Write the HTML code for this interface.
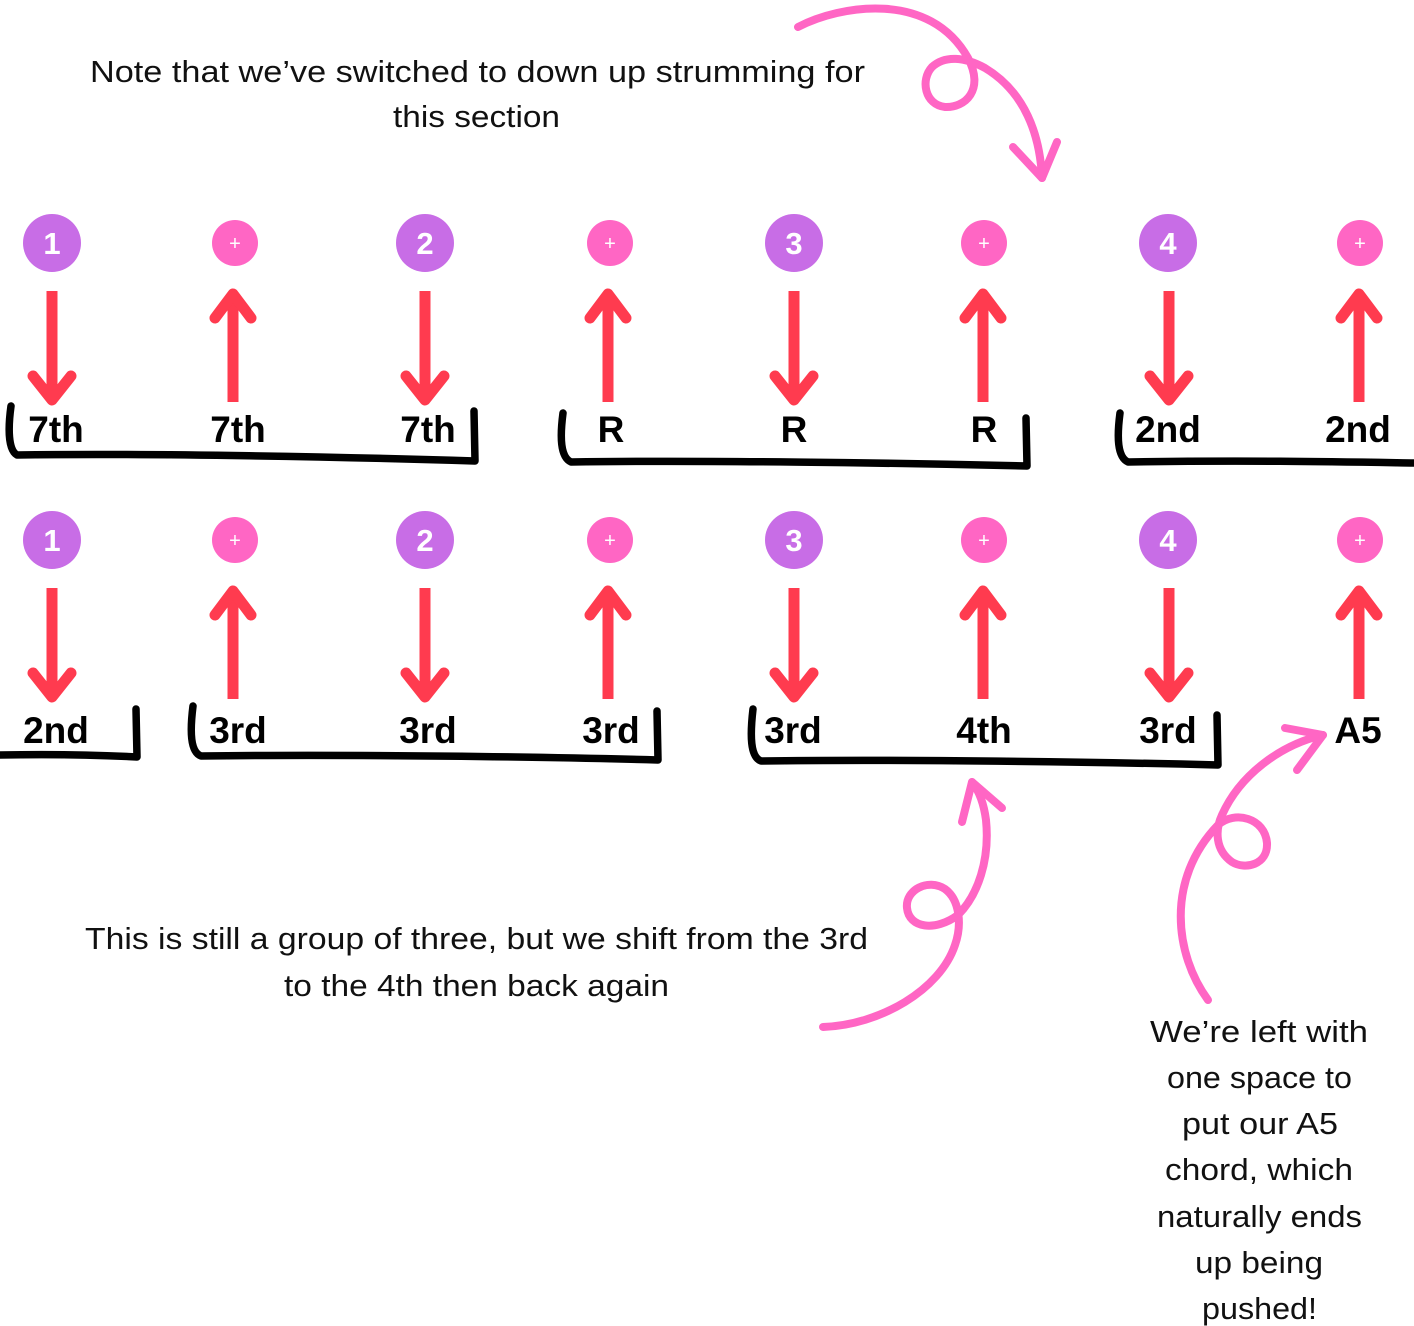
<!DOCTYPE html>
<html>
<head>
<meta charset="utf-8">
<style>
  html,body{margin:0;padding:0;background:#fff;}
  svg{display:block;}
  .t{font-family:"Liberation Sans",sans-serif;font-size:31px;fill:#111;}
  .lb{font-family:"Liberation Sans",sans-serif;font-weight:bold;font-size:37px;fill:#000;}
  .num{font-family:"Liberation Sans",sans-serif;font-weight:bold;font-size:31px;fill:#fff;}
  .pl{font-family:"Liberation Sans",sans-serif;font-size:20px;fill:#fff;}
</style>
</head>
<body>
<svg width="1414" height="1326" viewBox="0 0 1414 1326" xmlns="http://www.w3.org/2000/svg">
  <rect width="1414" height="1326" fill="#fff"/>

  <!-- top text -->
  <text class="t" x="90" y="82" textLength="775" lengthAdjust="spacingAndGlyphs">Note that we’ve switched to down up strumming for</text>
  <text class="t" x="393" y="127" textLength="167" lengthAdjust="spacingAndGlyphs">this section</text>

  <!-- bottom text -->
  <text class="t" x="85" y="949" textLength="783" lengthAdjust="spacingAndGlyphs">This is still a group of three, but we shift from the 3rd</text>
  <text class="t" x="284" y="996" textLength="385" lengthAdjust="spacingAndGlyphs">to the 4th then back again</text>

  <!-- right text -->
  <text class="t" x="1150" y="1042" textLength="218" lengthAdjust="spacingAndGlyphs">We’re left with</text>
  <text class="t" x="1167" y="1088" textLength="185" lengthAdjust="spacingAndGlyphs">one space to</text>
  <text class="t" x="1182" y="1134" textLength="156" lengthAdjust="spacingAndGlyphs">put our A5</text>
  <text class="t" x="1165" y="1180" textLength="188" lengthAdjust="spacingAndGlyphs">chord, which</text>
  <text class="t" x="1157" y="1227" textLength="205" lengthAdjust="spacingAndGlyphs">naturally ends</text>
  <text class="t" x="1195" y="1273" textLength="128" lengthAdjust="spacingAndGlyphs">up being</text>
  <text class="t" x="1202" y="1319" textLength="115" lengthAdjust="spacingAndGlyphs">pushed!</text>

  <!-- ROW 1 circles -->
  <g>
    <circle cx="52" cy="243" r="29" fill="#c86de6"/>
    <text class="num" x="52" y="254" text-anchor="middle">1</text>
    <circle cx="235" cy="243" r="23" fill="#ff66c4"/>
    <text class="pl" x="235" y="250" text-anchor="middle">+</text>
    <circle cx="425" cy="243" r="29" fill="#c86de6"/>
    <text class="num" x="425" y="254" text-anchor="middle">2</text>
    <circle cx="610" cy="243" r="23" fill="#ff66c4"/>
    <text class="pl" x="610" y="250" text-anchor="middle">+</text>
    <circle cx="794" cy="243" r="29" fill="#c86de6"/>
    <text class="num" x="794" y="254" text-anchor="middle">3</text>
    <circle cx="984" cy="243" r="23" fill="#ff66c4"/>
    <text class="pl" x="984" y="250" text-anchor="middle">+</text>
    <circle cx="1168" cy="243" r="29" fill="#c86de6"/>
    <text class="num" x="1168" y="254" text-anchor="middle">4</text>
    <circle cx="1360" cy="243" r="23" fill="#ff66c4"/>
    <text class="pl" x="1360" y="250" text-anchor="middle">+</text>
  </g>

  <!-- ROW 2 circles -->
  <g transform="translate(0,297)">
    <circle cx="52" cy="243" r="29" fill="#c86de6"/>
    <text class="num" x="52" y="254" text-anchor="middle">1</text>
    <circle cx="235" cy="243" r="23" fill="#ff66c4"/>
    <text class="pl" x="235" y="250" text-anchor="middle">+</text>
    <circle cx="425" cy="243" r="29" fill="#c86de6"/>
    <text class="num" x="425" y="254" text-anchor="middle">2</text>
    <circle cx="610" cy="243" r="23" fill="#ff66c4"/>
    <text class="pl" x="610" y="250" text-anchor="middle">+</text>
    <circle cx="794" cy="243" r="29" fill="#c86de6"/>
    <text class="num" x="794" y="254" text-anchor="middle">3</text>
    <circle cx="984" cy="243" r="23" fill="#ff66c4"/>
    <text class="pl" x="984" y="250" text-anchor="middle">+</text>
    <circle cx="1168" cy="243" r="29" fill="#c86de6"/>
    <text class="num" x="1168" y="254" text-anchor="middle">4</text>
    <circle cx="1360" cy="243" r="23" fill="#ff66c4"/>
    <text class="pl" x="1360" y="250" text-anchor="middle">+</text>
  </g>

  <defs>
    <g id="down">
      <line x1="0" y1="291" x2="0" y2="396" stroke="#ff3b4f" stroke-width="11"/>
      <polyline points="-19,376 0,400 19,376" fill="none" stroke="#ff3b4f" stroke-width="11" stroke-linecap="round" stroke-linejoin="round"/>
    </g>
    <g id="up">
      <line x1="0" y1="298" x2="0" y2="402" stroke="#ff3b4f" stroke-width="11"/>
      <polyline points="-18,318 0,294 18,318" fill="none" stroke="#ff3b4f" stroke-width="11" stroke-linecap="round" stroke-linejoin="round"/>
    </g>
  </defs>

  <!-- ROW 1 arrows -->
  <use href="#down" x="52" y="0"/>
  <use href="#up" x="233" y="0"/>
  <use href="#down" x="425" y="0"/>
  <use href="#up" x="608" y="0"/>
  <use href="#down" x="794" y="0"/>
  <use href="#up" x="983" y="0"/>
  <use href="#down" x="1169" y="0"/>
  <use href="#up" x="1359" y="0"/>

  <!-- ROW 2 arrows -->
  <use href="#down" x="52" y="297"/>
  <use href="#up" x="233" y="297"/>
  <use href="#down" x="425" y="297"/>
  <use href="#up" x="608" y="297"/>
  <use href="#down" x="794" y="297"/>
  <use href="#up" x="983" y="297"/>
  <use href="#down" x="1169" y="297"/>
  <use href="#up" x="1359" y="297"/>

  <!-- ROW 1 labels -->
  <text class="lb" x="56" y="442" text-anchor="middle">7th</text>
  <text class="lb" x="238" y="442" text-anchor="middle">7th</text>
  <text class="lb" x="428" y="442" text-anchor="middle">7th</text>
  <text class="lb" x="611" y="442" text-anchor="middle">R</text>
  <text class="lb" x="794" y="442" text-anchor="middle">R</text>
  <text class="lb" x="984" y="442" text-anchor="middle">R</text>
  <text class="lb" x="1168" y="442" text-anchor="middle">2nd</text>
  <text class="lb" x="1358" y="442" text-anchor="middle">2nd</text>

  <!-- ROW 2 labels -->
  <text class="lb" x="56" y="743" text-anchor="middle">2nd</text>
  <text class="lb" x="238" y="743" text-anchor="middle">3rd</text>
  <text class="lb" x="428" y="743" text-anchor="middle">3rd</text>
  <text class="lb" x="611" y="743" text-anchor="middle">3rd</text>
  <text class="lb" x="793" y="743" text-anchor="middle">3rd</text>
  <text class="lb" x="984" y="743" text-anchor="middle">4th</text>
  <text class="lb" x="1168" y="743" text-anchor="middle">3rd</text>
  <text class="lb" x="1358" y="743" text-anchor="middle">A5</text>

  <!-- brackets -->
  <g fill="none" stroke="#000" stroke-width="7.5" stroke-linecap="round" stroke-linejoin="round">
    <path d="M11,406 C8,428 8,450 17,455 C150,453 350,457 475,461 L474,411"/>
    <path d="M563,413 C560,436 560,457 571,462 C700,460 900,463 1027,466 L1026,418"/>
    <path d="M1120,413 C1117,436 1117,457 1128,462 C1250,460 1350,462 1414,463"/>
    <path d="M-2,755 C50,754 100,755 137,757 L136,709"/>
    <path d="M193,706 C190,730 190,752 201,756 C350,754 550,757 658,760 L657,711"/>
    <path d="M753,709 C750,735 750,757 761,761 C900,759 1100,762 1218,765 L1217,715"/>
  </g>

  <!-- curly pink arrows -->
  <g fill="none" stroke="#ff66c4" stroke-width="8" stroke-linecap="round" stroke-linejoin="round">
    <path d="M798,27 C840,5 930,-10 968,58 C985,90 965,108 945,107 C925,105 920,80 932,67 C945,55 965,57 985,68 C1025,92 1040,135 1042,178"/>
    <polyline points="1013,147 1042,178 1057,142"/>

    <path d="M823,1027 C880,1025 940,990 955,945 C962,925 960,900 945,889 C928,878 905,890 907,908 C909,928 935,932 958,915 C978,895 990,860 986,820 C984,805 980,792 972,782"/>
    <polyline points="962,822 972,782 1002,808"/>

    <path d="M1208,1000 C1175,955 1165,880 1218,825 C1235,810 1265,818 1267,843 C1268,865 1245,870 1232,862 C1215,850 1215,830 1222,815 C1240,775 1280,745 1323,735"/>
    <polyline points="1285,728 1323,735 1297,770"/>
  </g>
</svg>
</body>
</html>
